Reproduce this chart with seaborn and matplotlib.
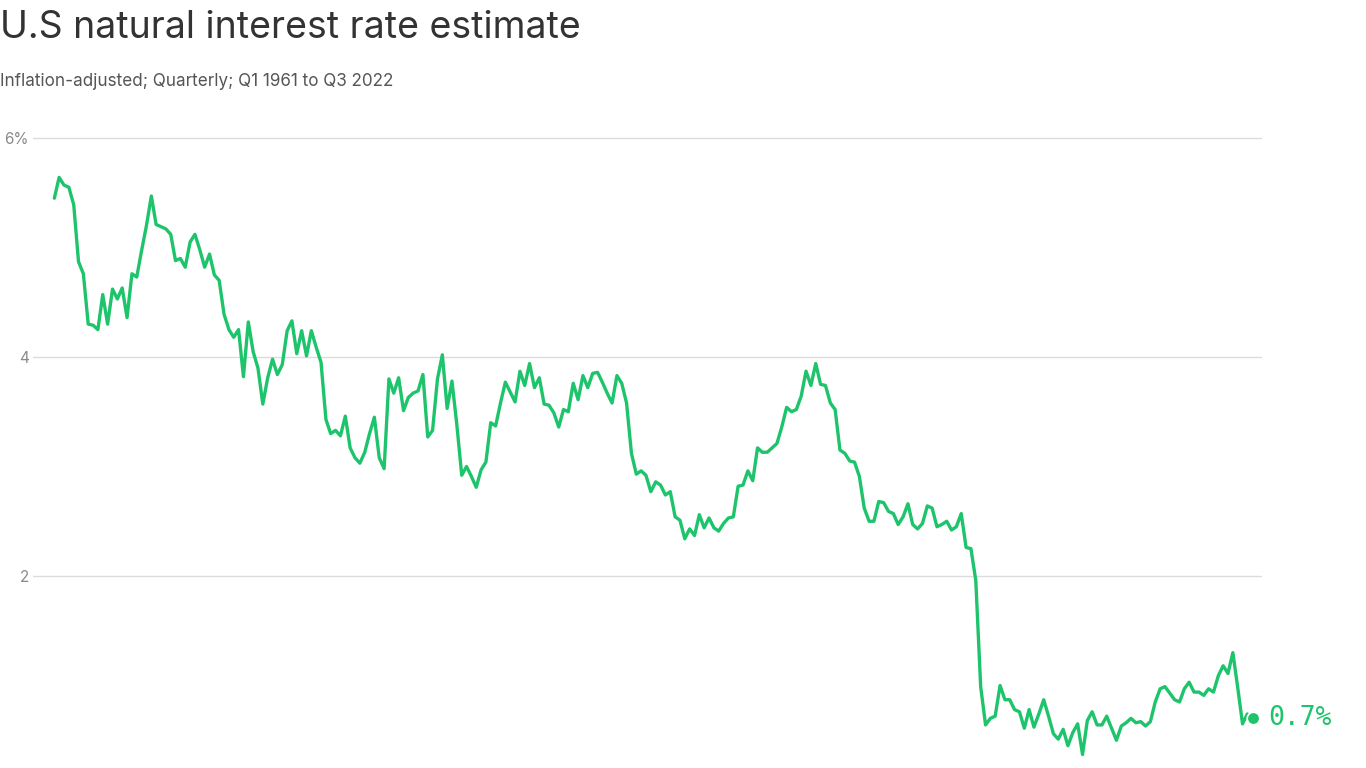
import numpy as np
import pandas as pd
import matplotlib
matplotlib.use('Agg')
import matplotlib.pyplot as plt
import matplotlib.transforms as mtransforms
import seaborn as sns

# natural rate estimate, quarterly Q1 1961 - Q3 2022
rate = [
    5.45, 5.64, 5.57, 5.55, 5.39, 4.87, 4.76, 4.30, 4.29, 4.25,
    4.57, 4.30, 4.62, 4.53, 4.63, 4.36, 4.76, 4.73, 4.97, 5.20,
    5.47, 5.21, 5.19, 5.17, 5.12, 4.88, 4.90, 4.82, 5.05, 5.12,
    4.98, 4.82, 4.94, 4.75, 4.70, 4.39, 4.25, 4.18, 4.25, 3.82,
    4.32, 4.05, 3.90, 3.57, 3.81, 3.98, 3.84, 3.93, 4.24, 4.33,
    4.03, 4.24, 4.01, 4.24, 4.09, 3.95, 3.43, 3.30, 3.33, 3.28,
    3.46, 3.17, 3.08, 3.03, 3.13, 3.30, 3.45, 3.08, 2.98, 3.80,
    3.67, 3.81, 3.51, 3.63, 3.67, 3.69, 3.84, 3.27, 3.33, 3.80,
    4.02, 3.53, 3.78, 3.38, 2.92, 3.00, 2.91, 2.81, 2.97, 3.04,
    3.40, 3.37, 3.58, 3.77, 3.68, 3.59, 3.87, 3.74, 3.94, 3.72,
    3.81, 3.57, 3.56, 3.49, 3.36, 3.52, 3.50, 3.76, 3.61, 3.83,
    3.72, 3.85, 3.86, 3.77, 3.67, 3.58, 3.83, 3.76, 3.58, 3.12,
    2.93, 2.96, 2.92, 2.77, 2.86, 2.83, 2.74, 2.77, 2.54, 2.51,
    2.34, 2.43, 2.37, 2.56, 2.44, 2.53, 2.44, 2.41, 2.48, 2.53,
    2.54, 2.82, 2.83, 2.96, 2.87, 3.17, 3.13, 3.13, 3.17, 3.21,
    3.36, 3.54, 3.50, 3.52, 3.64, 3.87, 3.74, 3.94, 3.75, 3.74,
    3.58, 3.52, 3.15, 3.12, 3.05, 3.04, 2.91, 2.62, 2.50, 2.50,
    2.68, 2.67, 2.59, 2.57, 2.47, 2.54, 2.66, 2.47, 2.43, 2.48,
    2.64, 2.62, 2.45, 2.47, 2.50, 2.42, 2.45, 2.57, 2.26, 2.25,
    1.96, 0.99, 0.64, 0.70, 0.72, 1.00, 0.87, 0.87, 0.78, 0.76,
    0.61, 0.78, 0.62, 0.74, 0.87, 0.72, 0.56, 0.51, 0.60, 0.45,
    0.57, 0.65, 0.37, 0.68, 0.76, 0.64, 0.64, 0.72, 0.61, 0.50,
    0.63, 0.66, 0.70, 0.66, 0.67, 0.63, 0.67, 0.85, 0.97, 0.99,
    0.93, 0.87, 0.85, 0.97, 1.03, 0.94, 0.94, 0.91, 0.97, 0.94,
    1.09, 1.18, 1.11, 1.30, 0.98, 0.65, 0.74,
]
quarters = pd.date_range('1961-01-01', periods=len(rate), freq='QS')

yticks = [2, 4, 6]
ytick_labels = ['2', '4', '6%']
latest = 0.7
latest_label = '0.7%'

title = 'U.S natural interest rate estimate'
subtitle = 'Inflation-adjusted; Quarterly; Q1 1961 to Q3 2022'

GREEN = '#1ec46c'

sns.set_theme(style='white')
plt.rcParams['font.family'] = ['Inter', 'DejaVu Sans']

fig = plt.figure(figsize=(13.66, 7.68), dpi=100)
ax = fig.add_axes([0.0242, 0.0076, 0.8997, 0.827])

df = pd.DataFrame({'quarter': quarters, 'rate': rate})
sns.lineplot(data=df, x='quarter', y='rate', color=GREEN, linewidth=2.4, ax=ax)

# end dot + label
dot_tr = mtransforms.offset_copy(ax.transData, fig=fig, x=6, y=0, units='dots')
ax.plot([quarters[-1]], [latest], 'o', color=GREEN, markersize=9,
        markeredgecolor='white', markeredgewidth=1.2, transform=dot_tr, clip_on=False)
ax.annotate(latest_label, xy=(quarters[-1], latest), xytext=(15, 0),
            textcoords='offset points', ha='left', va='center',
            fontsize=19, color=GREEN, family='DejaVu Sans Mono', annotation_clip=False)

q = pd.Timedelta(days=91.3)
ax.set_xlim(quarters[0] - 4.39 * q, quarters[-1] + 3.03 * q)
ax.set_ylim(0.3, 6.1)

ax.set_xticks([])
ax.set_yticks(yticks)
ax.set_yticklabels(ytick_labels)
ax.tick_params(axis='y', length=0, pad=3, labelsize=11, labelcolor='#8a8a8a')
ax.yaxis.grid(True, color='#dcdcdc', linewidth=1)
ax.set_xlabel('')
ax.set_ylabel('')
sns.despine(ax=ax, left=True, bottom=True)

fig.text(0.0, 1 - 38 / 768, title, fontsize=27, color='#333333', ha='left', va='baseline')
fig.text(0.0, 1 - 86 / 768, subtitle, fontsize=12.3, color='#555555', ha='left', va='baseline')

fig.savefig('out.png', dpi=100)
